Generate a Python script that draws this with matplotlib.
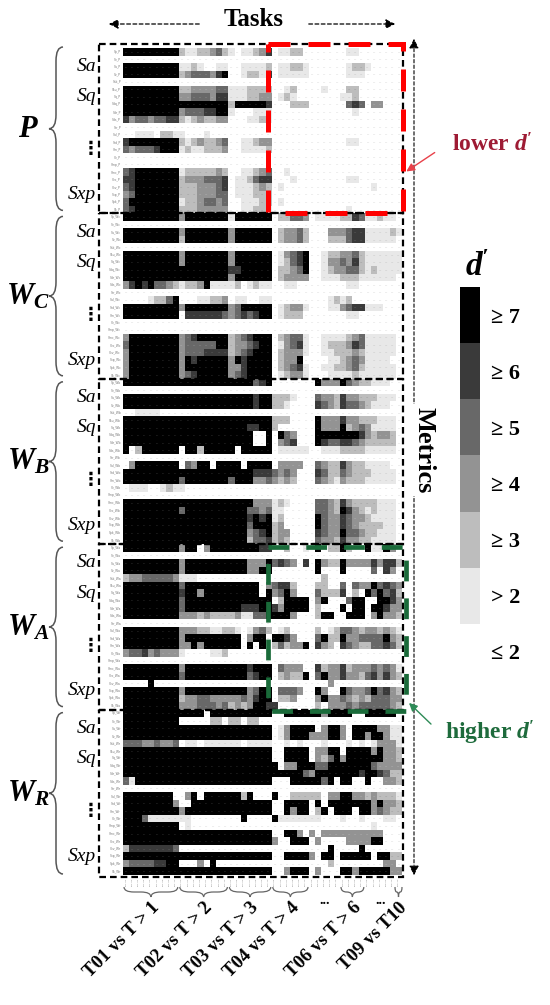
import numpy as np
import matplotlib
matplotlib.use('Agg')
import matplotlib.pyplot as plt
from matplotlib.colors import ListedColormap, BoundaryNorm
from matplotlib.patches import Rectangle, PathPatch
from matplotlib.path import Path
import matplotlib.cm as cm

plt.rcParams['mathtext.fontset'] = 'custom'
plt.rcParams['mathtext.rm'] = 'Liberation Serif'
plt.rcParams['mathtext.it'] = 'Liberation Serif:italic'
plt.rcParams['mathtext.bf'] = 'Liberation Serif:italic:bold'
SERIF = ['Liberation Serif', 'DejaVu Serif']

# ---- data -------------------------------------------------------------
block_names = ['P', 'Wc', 'Wb', 'Wa', 'Wr']
block_labels = [r'$\mathbf{P}$', r'$\mathbf{W}_{\mathbf{C}}$', r'$\mathbf{W}_{\mathbf{B}}$',
                r'$\mathbf{W}_{\mathbf{A}}$', r'$\mathbf{W}_{\mathbf{R}}$']
metrics = ['Sp', 'Sv', 'Sa', 'Sz', 'Ssk', 'Sku', 'Sq', 'Sdq', 'Sdr', 'Sds', 'Str',
           'Sal', 'Std', 'Vm', 'Vv', 'Vmp', 'Vmc', 'Vvc', 'Vvv', 'Sxp', 'Spk', 'Sk']
guide_labels = {2: 'Sa', 6: 'Sq', 13: '\u22ee', 19: 'Sxp'}

task_groups = ['T01 vs T > 1', 'T02 vs T > 2', 'T03 vs T > 3', 'T04 vs T > 4', 'T05 vs T > 5',
               'T06 vs T > 6', 'T07 vs T > 7', 'T08 vs T > 8', 'T09 vs T10']
shown_groups = [0, 1, 2, 3, 5, 8]
dotted_groups = [[4], [6, 7]]

level_labels = ['\u2264 2', '> 2', '\u2265 3', '\u2265 4', '\u2265 5', '\u2265 6', '\u2265 7']
level_values = ['1.4', '2.5', '3.5', '4.5', '5.5', '6.5', '8.1']

# d' level per cell (0: <=2 ... 6: >=7), groups T01..T09 separated by spaces
P_rows = [
    "666666666 21122342 1011235 011220 00000 0110 000 00 0",
    "000000000 00000000 0000000 000000 00000 0000 000 00 0",
    "666666666 11210011 0011112 011221 00000 0122 100 00 0",
    "666666666 23444356 0012215 011111 00000 0111 000 00 0",
    "000000000 00000000 0000000 000000 00000 0000 000 00 0",
    "666666666 22333344 1112222 001200 00100 0220 000 00 0",
    "666666666 33444355 1112233 012100 00000 1120 000 00 0",
    "666666666 66666666 2666665 000222 00000 0454 033 00 0",
    "666666666 34445566 1000111 000000 00000 0010 000 00 0",
    "534434455 21232233 0001121 000000 00000 0000 000 00 0",
    "000000000 00000000 0000000 000000 00000 0000 000 00 0",
    "001110221 10001000 0000000 000000 00000 0000 000 00 0",
    "566666666 21232234 0011233 000000 00000 0110 000 00 0",
    "434445666 12112223 0011112 000000 00000 0000 000 00 0",
    "000000000 00000000 0000000 000000 00000 0000 000 00 0",
    "000000000 00000000 0000000 000000 00000 0000 000 00 0",
    "456666666 12222232 0011234 001000 00000 0000 000 00 0",
    "556666666 23334445 0112455 000100 00000 0110 000 00 0",
    "456666666 22233345 0111232 010000 00000 0000 010 00 0",
    "346666666 22233344 0111222 000000 00000 0000 000 00 0",
    "466666666 12234434 0011122 010000 00000 0000 000 00 0",
    "456666666 22233333 0011221 000000 00000 0100 000 00 0",
]
Wc_rows = [
    "666666666 36666666 1666666 022443 01111 2254 112 11 0",
    "000000000 00000000 0000000 000000 00000 0000 000 00 0",
    "666666666 36666666 3666666 023342 00033 3455 111 12 1",
    "666666666 26666666 3666666 023342 00022 2455 111 11 0",
    "000000000 00000000 0000000 000000 00000 0000 000 00 0",
    "666666666 36666666 3666666 013456 00122 3342 111 11 1",
    "666666666 36666666 3666666 012456 00133 4352 111 11 1",
    "666666666 66666666 5566666 022346 00123 3442 121 11 1",
    "666666666 66666666 3666666 023333 00111 2221 111 11 0",
    "356564432 12236111 1201211 001100 00000 0110 000 00 0",
    "000000000 00000000 0000000 000000 00000 0000 000 00 0",
    "000012246 00011223 0110011 000000 00012 1200 000 00 0",
    "666666666 36666666 3466666 012331 00011 3455 111 00 0",
    "666666666 05555554 3454566 012220 00000 0110 000 00 0",
    "000000000 00000000 0000000 000000 00000 0000 000 00 0",
    "000000000 00000000 0000000 000000 00000 0000 000 00 0",
    "366666666 34566666 2345666 023441 00111 1234 111 11 0",
    "466666666 34444466 2334566 013451 00122 2354 111 11 0",
    "366666666 34445555 2345666 023331 00112 2232 111 11 0",
    "366666666 36566666 3656666 023360 00011 2343 111 10 0",
    "366666666 36666666 3356666 023451 00112 2342 111 11 0",
    "366666666 34566666 3456666 012331 00011 1121 111 11 0",
]
Wb_rows = [
    "666666666 66666666 6666456 000000 06333 6432 211 10 0",
    "000000000 00000000 0000000 000000 00000 0000 000 00 0",
    "666666666 66666666 6666566 222100 04332 5332 221 11 0",
    "666666666 66666666 6666566 221000 05432 5443 211 10 0",
    "001111000 00000000 0000000 000000 00000 0000 000 00 0",
    "666666666 66666666 6666666 222000 06333 5332 221 11 0",
    "666666666 66666666 6665566 200000 06333 6234 311 11 0",
    "666666666 66666666 6666006 064300 06666 6665 323 32 0",
    "666666666 66666666 6666006 034500 06544 5543 222 22 0",
    "602666666 06626666 6066666 011111 00111 2222 111 11 0",
    "000000000 00000000 0000000 000000 00000 0000 000 00 0",
    "036666666 04366066 6606666 033330 04322 5322 111 10 0",
    "666666666 66666666 6666555 434300 05422 4322 211 11 0",
    "666666666 46666666 4666334 323200 04321 3222 111 11 0",
    "011100121 10000000 0000000 000000 00000 0000 000 00 0",
    "000000000 00000000 0000000 000000 00000 0000 000 00 0",
    "666666666 66666666 6666333 121000 04432 5322 221 11 0",
    "666666666 46666666 6664434 110000 04432 6532 121 11 0",
    "666666666 66666666 6665656 120000 06433 5433 211 11 0",
    "666666666 66666666 6664666 230000 06433 5432 222 11 0",
    "666666666 66666666 6663456 233000 05433 6443 221 11 0",
    "666666666 66666666 6662445 232000 04332 5332 211 11 0",
]
Wa_rows = [
    "666666666 36603666 6666655 002001 06022 6200 611 63 0",
    "000000000 00000000 0000000 000000 00000 0000 000 00 0",
    "666666666 36666666 6663336 454305 06322 6333 353 55 2",
    "666666666 36666666 6663366 000000 06000 6000 040 53 0",
    "233444443 11100000 0000000 000000 00200 0000 000 00 0",
    "666666666 46666666 6666603 455200 02200 4043 364 54 3",
    "666666666 56636666 6666606 346300 04222 5020 646 45 2",
    "666666666 46666666 6666666 026666 03600 0466 006 65 3",
    "666666666 46666666 6655566 536666 02000 6066 066 53 3",
    "666666666 33323222 2311446 666300 02660 0666 036 33 2",
    "000000000 00000000 0000000 000000 00000 0000 000 00 0",
    "666666666 33322112 2101342 012000 02012 4432 332 32 1",
    "666666666 36666666 6603660 665300 04622 6334 444 63 2",
    "666666666 33636666 6606060 242336 05320 5432 244 54 2",
    "344534333 10000112 0000000 000000 00000 0000 000 00 0",
    "000000000 00000000 0000000 000000 00000 0000 000 00 0",
    "666666666 36666666 6665666 043330 05233 5233 343 43 1",
    "666666666 46666666 6664566 023226 04633 5332 453 53 2",
    "000060000 00000000 0000000 000000 00030 0000 000 00 0",
    "666666666 36666666 6663466 044430 06300 6433 464 53 2",
    "666666666 23344333 3343566 022300 03633 4323 244 43 3",
    "666666666 33344434 2323665 500000 02033 3434 444 43 2",
]
Wr_rows = [
    "666666666 66660666 6666666 006666 66366 6600 666 66 0",
    "666666666 00000220 2202200 000000 00000 0000 000 00 0",
    "666666666 66666666 6666666 013666 60366 3066 663 31 1",
    "666666666 66666666 6666666 013666 33366 3066 366 31 1",
    "444334334 01101111 1101111 001010 00100 0101 013 33 1",
    "666666666 66666666 6666666 006666 03366 0666 636 33 2",
    "666666666 66666666 6666666 006666 03246 3666 666 33 2",
    "666666666 66666666 6666666 603366 64466 6666 643 33 3",
    "666666666 66666666 6666666 666664 36666 6665 665 42 2",
    "416666666 66666666 6666666 000666 66460 6600 600 33 2",
    "000000000 00000000 0000000 000000 00000 0000 000 00 0",
    "666666660 03606666 6626000 600222 22033 6633 232 22 1",
    "666666663 00666666 6666666 006666 06066 6666 636 33 2",
    "666666666 36666666 6666666 006366 02606 6606 634 32 2",
    "666411111 11000000 0060000 611111 11000 1001 000 11 0",
    "666666666 01000000 0000000 000000 00000 0000 010 00 0",
    "666666666 66666666 6666666 006630 30333 3333 333 00 0",
    "666666666 66666666 6666666 300666 03000 0333 366 00 0",
    "255555554 00000000 0000000 000000 00060 0006 000 00 0",
    "666666666 66666666 6666666 006666 30660 6666 606 62 2",
    "344445566 00030600 0000000 000000 00020 0000 000 33 0",
    "666666666 66666666 6666666 003666 03000 6636 666 63 3",
]

# ---- prepare ----------------------------------------------------------
all_rows = P_rows + Wc_rows + Wb_rows + Wa_rows + Wr_rows
Z = np.array([[int(c) for c in r.replace(' ', '')] for r in all_rows])
n_rows, n_cols = Z.shape
n_per_block = len(metrics)

col_labels = []
group_start = []
for i in range(1, 10):
    group_start.append(len(col_labels))
    for j in range(i + 1, 11):
        col_labels.append(f'T{i:02d}-{j:02d}')
group_start.append(len(col_labels))

level_colors = ['#ffffff', '#e8e8e8', '#bdbdbd', '#939393', '#686868', '#3a3a3a', '#000000']
text_colors = ['#d2d2d2', '#c4c4c4', '#9c9c9c', '#b4b4b4', '#8c8c8c', '#5c5c5c', '#3a3a3a']
cmap = ListedColormap(level_colors)
norm = BoundaryNorm(np.arange(-0.5, 7.5, 1), cmap.N)

W, H = 550, 1005
fig = plt.figure(figsize=(W / 100, H / 100), dpi=100)

# heatmap area in pixels
hx0, hx1, hy0, hy1 = 123, 402, 48, 875
hax = fig.add_axes([hx0 / W, 1 - hy1 / H, (hx1 - hx0) / W, (hy1 - hy0) / H])
hax.imshow(Z, cmap=cmap, norm=norm, aspect='auto', interpolation='nearest',
           extent=(0, n_cols, n_rows, 0))
hax.set_xlim(0, n_cols)
hax.set_ylim(n_rows, 0)
hax.axis('off')
for r in range(n_rows):
    for c in range(n_cols):
        v = Z[r, c]
        hax.text(c + 0.5, r + 0.55, level_values[v], fontsize=1.5, ha='center',
                 va='center', color=text_colors[v])

cw = (hx1 - hx0) / n_cols
rh = (hy1 - hy0) / n_rows


def xp(c):
    return hx0 + c * cw


def yp(r):
    return hy0 + r * rh


# overlay in pixel coordinates
ax = fig.add_axes([0, 0, 1, 1])
ax.set_xlim(0, W)
ax.set_ylim(H, 0)
ax.axis('off')
ax.patch.set_alpha(0)


def brace_v(x_tip, x_arm, y0, y1, **kw):
    xm = (x_tip + x_arm) / 2
    ym = (y0 + y1) / 2
    r = min(abs(x_arm - x_tip), (y1 - y0) / 4)
    verts = [(x_arm, y0), (xm, y0), (xm, y0 + r), (xm, ym - r), (xm, ym), (x_tip, ym),
             (xm, ym), (xm, ym + r), (xm, y1 - r), (xm, y1), (x_arm, y1)]
    codes = [Path.MOVETO, Path.CURVE3, Path.CURVE3, Path.LINETO, Path.CURVE3, Path.CURVE3,
             Path.CURVE3, Path.CURVE3, Path.LINETO, Path.CURVE3, Path.CURVE3]
    ax.add_patch(PathPatch(Path(verts, codes), fill=False, **kw))


def brace_h(x0, x1, y_arm, y_tip, **kw):
    ym = (y_arm + y_tip) / 2
    xmid = (x0 + x1) / 2
    r = min(abs(y_tip - y_arm), (x1 - x0) / 4)
    verts = [(x0, y_arm), (x0, ym), (x0 + r, ym), (xmid - r, ym), (xmid, ym), (xmid, y_tip),
             (xmid, ym), (xmid + r, ym), (x1 - r, ym), (x1, ym), (x1, y_arm)]
    codes = [Path.MOVETO, Path.CURVE3, Path.CURVE3, Path.LINETO, Path.CURVE3, Path.CURVE3,
             Path.CURVE3, Path.CURVE3, Path.LINETO, Path.CURVE3, Path.CURVE3]
    ax.add_patch(PathPatch(Path(verts, codes), fill=False, **kw))


# row labels, block frames, braces, block labels
for b, name in enumerate(block_names):
    r0 = b * n_per_block
    for k, m in enumerate(metrics):
        ax.text(hx0 - 2, yp(r0 + k + 0.5), f'{m}_{name}', fontsize=2.2, ha='right',
                va='center', color='#777777')
    top = yp(r0) if b else hy0 - 4
    bot = yp(r0 + n_per_block) if b < len(block_names) - 1 else hy1 + 2
    ax.add_patch(Rectangle((99, top), 304, bot - top, fill=False, ec='black', lw=1.6,
                           ls=(0, (3, 1.8)), zorder=5))
    brace_v(49, 63, top + 3, bot - 3, ec='#555555', lw=1.1)
    ax.text(28, (top + bot) / 2, block_labels[b], fontsize=22, ha='center', va='center')
    for k, lab in guide_labels.items():
        if lab == '\u22ee':
            ax.text(91, yp(r0 + k + 0.5), lab, fontsize=13, ha='center', va='center',
                    family='DejaVu Sans', fontweight='bold')
        else:
            ax.text(96, yp(r0 + k + 0.5), lab, fontsize=14, ha='right', va='center',
                    family=SERIF, style='italic')

# column labels and group braces
for c, lab in enumerate(col_labels):
    ax.text(xp(c + 0.5), hy1 + 3, lab, fontsize=1.7, rotation=90, ha='center', va='top',
            color='#888888')
for g in shown_groups:
    x0, x1 = xp(group_start[g]) + 1, xp(group_start[g + 1]) - 1
    if x1 - x0 < 8:
        x0, x1 = x1 - 6, x1 + 1
    brace_h(x0, x1, 887, 897, ec='#666666', lw=0.9)
    ax.text((x0 + x1) / 2 + 6, 905, task_groups[g], fontsize=13.5, fontweight='bold',
            family=SERIF, rotation=45, rotation_mode='anchor', ha='right', va='center')
for gs in dotted_groups:
    xc = (xp(group_start[gs[0]]) + xp(group_start[gs[-1] + 1])) / 2
    ax.text(xc, 900, '...', fontsize=10, fontweight='bold', ha='center', va='center',
            family=SERIF)

# Tasks / Metrics arrows
ax.text(254, 19, 'Tasks', fontsize=18, fontweight='bold', family=SERIF, ha='center',
        va='center')
arr = dict(arrowstyle='-|>', color='black', lw=0.9, ls=(0, (3, 2)), mutation_scale=14)
ax.annotate('', xy=(106, 24), xytext=(202, 24), arrowprops=arr)
ax.annotate('', xy=(398, 24), xytext=(306, 24), arrowprops=arr)
ax.annotate('', xy=(414, 36), xytext=(414, 878),
            arrowprops=dict(arrowstyle='<|-|>', color='black', lw=0.8, ls=(0, (3, 2)),
                            mutation_scale=14))
ax.text(424, 450, 'Metrics', fontsize=19, fontweight='bold', family=SERIF, rotation=-90,
        ha='center', va='center', bbox=dict(fc='white', ec='none', pad=2))

# highlight boxes
ax.add_patch(Rectangle((268, 44), 135, 169, fill=False, ec='#ff0000', lw=3.6,
                       ls=(0, (4.4, 3.6)), zorder=6))
ax.add_patch(Rectangle((268, 547), 138, 164, fill=False, ec='#1a6b3a', lw=3.4,
                       ls=(0, (4.4, 3.6)), zorder=6))
ax.text(492, 145, r"lower $\mathbf{d'}$", fontsize=17, fontweight='bold', family=SERIF,
        color='#9e1b34', ha='center', va='center')
ax.annotate('', xy=(404, 173), xytext=(437, 151),
            arrowprops=dict(arrowstyle='-|>', color='#e8414a', lw=1, mutation_scale=12))
ax.text(490, 733, r"higher $\mathbf{d'}$", fontsize=17, fontweight='bold', family=SERIF,
        color='#1e6b3c', ha='center', va='center')
ax.annotate('', xy=(407, 701), xytext=(433, 726),
            arrowprops=dict(arrowstyle='-|>', color='#2e8b57', lw=1, mutation_scale=12))

# colorbar
cax = fig.add_axes([460 / W, 1 - 680 / H, 20 / W, 393 / H])
cb = fig.colorbar(cm.ScalarMappable(norm=norm, cmap=cmap), cax=cax, ticks=range(7))
cb.outline.set_visible(False)
cb.ax.minorticks_off()
cb.ax.tick_params(length=0, pad=8)
cb.ax.set_yticklabels(level_labels, fontsize=16, fontweight='bold', family=SERIF)
ax.text(477, 266, r"$\mathbf{d'}$", fontsize=24, ha='center', va='center')

fig.savefig('out.png', dpi=100)
